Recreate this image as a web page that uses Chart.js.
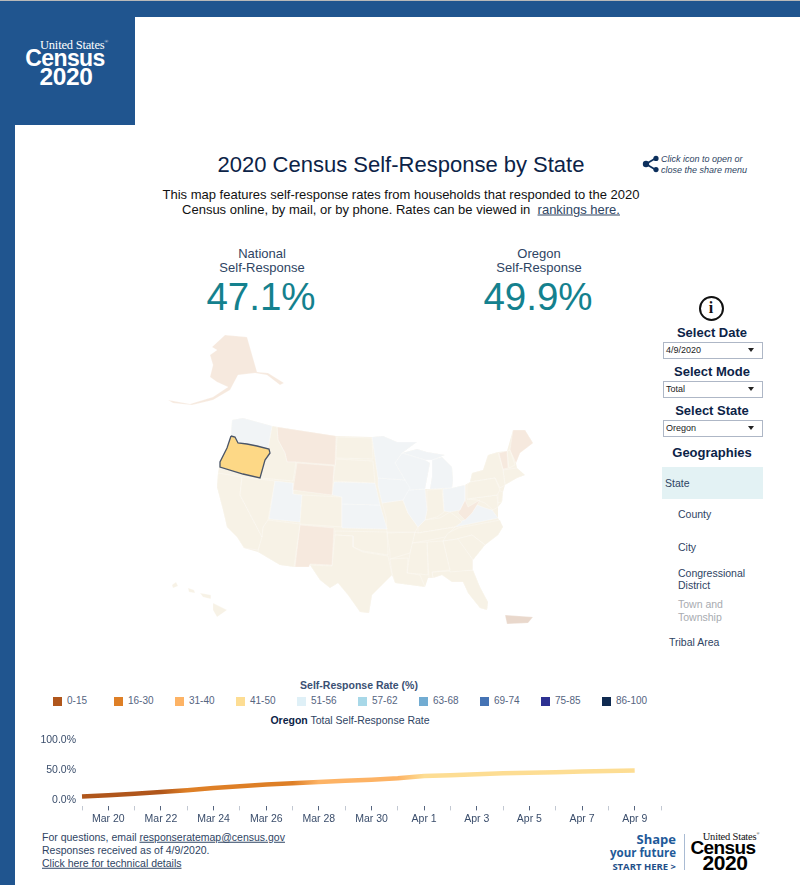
<!DOCTYPE html>
<html>
<head>
<meta charset="utf-8">
<title>2020 Census Self-Response by State</title>
<script src="https://cdn.jsdelivr.net/npm/chart.js@4"></script>
<style>
    html, body { margin: 0; padding: 0; background: #fff; }
    body { position: relative; width: 800px; height: 885px; overflow: hidden; font-family: "Liberation Sans", Arial, sans-serif; color: #2e4463; }
    .t { position: absolute; white-space: nowrap; line-height: 1; transform: translateY(-50%); }
    .c { transform: translate(-50%, -50%); text-align: center; }
    .r { transform: translate(-100%, -50%); text-align: right; }
    .block { position: absolute; }
    .big { font-size: 38.5px; color: #14818e; }
    .sub { font-size: 13px; color: #2e4463; }
    .head { font-size: 13px; font-weight: bold; color: #0c2347; }
    .geo { font-size: 10.5px; color: #2e4463; }
    .select { position: absolute; left: 663px; width: 98px; height: 15px; border: 1px solid #aeb7c6; font-size: 9px; line-height: 15px; color: #222; text-indent: 2px; }
    .select::after { content: ""; position: absolute; right: 8px; top: 5px; border: 3px solid transparent; border-top: 4px solid #222; }
    a, .u { text-decoration: underline; }
    canvas { position: absolute; display: block; }
    .swatch { position: absolute; width: 9px; height: 9px; top: 697px; }
    .legend-label { position: absolute; top: 701px; font-size: 10px; line-height: 1; transform: translateY(-50%); color: #55657f; }
</style>
</head>
<body>
    <!-- Blue frame and logo block -->
    <div class="block" style="left:0;top:0;width:800px;height:17px;background:#20558f"></div>
    <div class="block" style="left:0;top:0;width:800px;height:1px;background:#b9b9b9"></div>
    <div class="block" style="left:0;top:1px;width:135px;height:124px;background:#20558f"></div>
    <div class="block" style="left:0;top:125px;width:15px;height:760px;background:#20558f"></div>
    <div class="t c" style="left:74px;top:45px;font:12.5px 'Liberation Serif';color:#fff;letter-spacing:-.2px">United States<sup style="font-size:5px">®</sup></div>
    <div class="t c" style="left:65px;top:58px;font:bold 23px 'Liberation Sans';color:#fff;letter-spacing:-.6px">Census</div>
    <div class="t c" style="left:66px;top:77px;font:bold 24.5px 'Liberation Sans';color:#fff;letter-spacing:-.4px">2020</div>

    <!-- Title and intro -->
    <div class="t c" style="left:401px;top:165px;font-size:22px;color:#0c2347">2020 Census Self-Response by State</div>
    <div class="t c" style="left:401px;top:194px;font-size:13px;color:#111">This map features self-response rates from households that responded to the 2020</div>
    <div class="t c" style="left:401px;top:209px;font-size:13px;color:#111">Census online, by mail, or by phone. Rates can be viewed in &nbsp;<span class="u" style="color:#2e4463">rankings here.</span></div>

    <!-- Share hint -->
    <svg class="block" style="left:642px;top:155px" width="18" height="18" viewBox="0 0 18 18">
        <g stroke="#0c2f5c" stroke-width="1.6"><line x1="4" y1="9" x2="14" y2="3"/><line x1="4" y1="9" x2="14" y2="15"/></g>
        <g fill="#0c2f5c"><circle cx="4" cy="9" r="3.2"/><circle cx="14" cy="3.4" r="2.6"/><circle cx="14" cy="14.6" r="2.6"/></g>
    </svg>
    <div class="t" style="left:661px;top:159px;font-size:9px;font-style:italic;color:#2e4463">Click icon to open or</div>
    <div class="t" style="left:661px;top:170px;font-size:9px;font-style:italic;color:#2e4463">close the share menu</div>

    <!-- Headline numbers -->
    <div class="t c sub" style="left:262px;top:253px">National</div>
    <div class="t c sub" style="left:262px;top:267px">Self-Response</div>
    <div class="t c big" style="left:261px;top:297px">47.1%</div>
    <div class="t c sub" style="left:539px;top:253px">Oregon</div>
    <div class="t c sub" style="left:539px;top:267px">Self-Response</div>
    <div class="t c big" style="left:538px;top:297px">49.9%</div>

    <!-- Side controls -->
    <div class="block" style="left:699px;top:296px;width:21px;height:21px;border:2px solid #111;border-radius:50%"></div>
    <div class="t c" style="left:711px;top:308px;font:bold 16px 'Liberation Serif';color:#111">i</div>
    <div class="t c head" style="left:712px;top:332px">Select Date</div>
    <div class="select" style="top:342px">4/9/2020</div>
    <div class="t c head" style="left:712px;top:371px">Select Mode</div>
    <div class="select" style="top:381px">Total</div>
    <div class="t c head" style="left:712px;top:410px">Select State</div>
    <div class="select" style="top:420px">Oregon</div>
    <div class="t c head" style="left:712px;top:452px">Geographies</div>
    <div class="block" style="left:662px;top:467px;width:101px;height:32px;background:#e3f2f4"></div>
    <div class="t geo" style="left:665px;top:483px">State</div>
    <div class="t geo" style="left:678px;top:514px">County</div>
    <div class="t geo" style="left:678px;top:547px">City</div>
    <div class="t geo" style="left:678px;top:573px">Congressional</div>
    <div class="t geo" style="left:678px;top:585px">District</div>
    <div class="t geo" style="left:678px;top:604px;color:#a8abb0">Town and</div>
    <div class="t geo" style="left:678px;top:617px;color:#a8abb0">Township</div>
    <div class="t geo" style="left:669px;top:642px">Tribal Area</div>

    <!-- Map and trend chart -->
    <canvas id="map-chart" width="420" height="340" style="left:130px;top:320px"></canvas>
    <div class="t c" style="left:359px;top:685px;font-size:10.5px;font-weight:bold;color:#3a5073">Self-Response Rate (%)</div>
    <div id="rate-legend"></div>
    <div class="t c" style="left:350px;top:720px;font-size:10.5px;color:#2e4463"><b style="color:#0c2347">Oregon</b> Total Self-Response Rate</div>
    <canvas id="trend-chart" width="800" height="100" style="left:0;top:728px"></canvas>

    <!-- Footer -->
    <div class="t" style="left:42px;top:837px;font-size:10.5px">For questions, email <span class="u">responseratemap@census.gov</span></div>
    <div class="t" style="left:42px;top:850px;font-size:10.5px">Responses received as of 4/9/2020.</div>
    <div class="t u" style="left:42px;top:863px;font-size:10.5px">Click here for technical details</div>
    <div class="t r" style="left:676px;top:839px;font:bold 13px 'Open Sans';color:#1f5a99">Shape</div>
    <div class="t r" style="left:676px;top:852px;font:bold 11.5px 'Open Sans';color:#1f5a99">your future</div>
    <div class="t r" style="left:676px;top:866px;font:bold 9.5px 'Open Sans';color:#1f4f8a">START HERE &gt;</div>
    <div class="block" style="left:684px;top:834px;width:1px;height:36px;background:#a9bbd3"></div>
    <div class="t c" style="left:731px;top:836px;font:10.5px 'Liberation Serif';color:#111;letter-spacing:-.2px">United States<sup style="font-size:4px">®</sup></div>
    <div class="t c" style="left:723px;top:848px;font:bold 19px 'Liberation Sans';color:#000;letter-spacing:-.6px">Census</div>
    <div class="t c" style="left:725px;top:863px;font:bold 21px 'Liberation Sans';color:#000;letter-spacing:-.4px">2020</div>

<script>
// Trend chart data, one entry per day
const dateLabels = ['Mar 19', 'Mar 20', 'Mar 21', 'Mar 22', 'Mar 23', 'Mar 24', 'Mar 25', 'Mar 26', 'Mar 27', 'Mar 28', 'Mar 29', 'Mar 30', 'Mar 31',
    'Apr 1', 'Apr 2', 'Apr 3', 'Apr 4', 'Apr 5', 'Apr 6', 'Apr 7', 'Apr 8', 'Apr 9', 'Apr 10'];
const rateValues = [6.5, 8.5, 11, 14, 17, 20.5, 23.5, 26.5, 28.5, 30.5, 32.5, 34.5, 37, 40.5, 42, 43.5, 45, 46, 47, 48, 49, 49.9];
const xTickLabels = ['Mar 20', 'Mar 22', 'Mar 24', 'Mar 26', 'Mar 28', 'Mar 30', 'Apr 1', 'Apr 3', 'Apr 5', 'Apr 7', 'Apr 9'];
const yTickValues = [0, 50, 100];

// Legend bands
const legendLabels = ['0-15', '16-30', '31-40', '41-50', '51-56', '57-62', '63-68', '69-74', '75-85', '86-100'];
const legendColors = ['#b0561b', '#de7f26', '#fdb365', '#fddd93', '#dff0f7', '#a8d8e8', '#72acd2', '#4573b4', '#2d3192', '#0f2a50'];
const bandTops = [15, 30, 40, 50, 56, 62, 68, 74, 85, 100];

// Map: which states sit in which band, the rest are 41-50
const band16to30 = ['PR'];
const band31to40 = ['AK', 'MT', 'WY', 'NM', 'WV', 'ME', 'VT'];
const band51to56 = ['WA', 'UT', 'NE', 'KS', 'MN', 'IA', 'WI', 'IL', 'MI', 'OH', 'VA'];
const selectedState = 'OR';

// Rough state outlines in map units, US is the backdrop behind the lower 48
const stateOutlines = {
    US: [[232,420],[243,418],[272,426],[336,436],[372,437],[383,436],[397,442],[417,442],[402,453],[417,449],[427,452],[445,455],[433,460],[425,460],[430,463],[425,489],[430,489],[432,477],[432,460],[442,457],[452,467],[453,480],[452,488],[465,485],[470,482],[472,473],[483,470],[488,455],[498,452],[507,451],[513,430],[525,430],[533,443],[520,453],[516,463],[517,468],[525,475],[517,478],[505,485],[503,492],[502,502],[498,507],[498,518],[503,527],[498,535],[485,545],[473,560],[473,570],[480,587],[488,602],[487,610],[480,608],[468,593],[463,582],[452,582],[442,575],[433,578],[428,578],[425,587],[410,585],[395,583],[392,575],[382,585],[372,595],[369,613],[360,612],[348,595],[338,583],[330,588],[320,580],[310,565],[295,567],[280,565],[258,552],[244,548],[237,537],[227,527],[223,510],[217,487],[218,473],[220,462],[227,448],[231,436]],
    WA: [[232,420],[243,418],[272,426],[268,448],[257,446],[238,443],[231,436]],
    ID: [[272,426],[277,427],[278,440],[285,453],[287,462],[296,462],[293,481],[260,478],[265,460],[270,453],[268,448]],
    MT: [[277,427],[336,436],[335,465],[297,462],[287,462],[285,453],[278,440]],
    WY: [[297,463],[334,466],[332,495],[293,490]],
    ND: [[337,437],[372,438],[373,459],[336,458]],
    SD: [[336,459],[373,461],[375,483],[333,481]],
    NE: [[334,482],[375,483],[380,505],[342,504],[342,497],[332,495]],
    KS: [[342,504],[380,505],[387,529],[342,528]],
    CO: [[302,495],[342,497],[342,527],[300,524]],
    UT: [[275,481],[293,483],[293,494],[302,495],[300,522],[269,519]],
    NV: [[242,477],[275,481],[268,520],[263,527],[262,537],[240,495]],
    CA: [[218,473],[242,477],[240,495],[262,537],[258,550],[244,548],[237,537],[227,527],[223,510],[217,487]],
    AZ: [[263,527],[268,520],[300,524],[294,567],[280,565],[258,552]],
    NM: [[300,525],[334,528],[332,565],[310,564],[309,567],[295,567]],
    TX: [[335,535],[353,536],[353,547],[363,552],[388,556],[392,575],[382,585],[372,595],[369,613],[360,612],[348,595],[338,583],[330,588],[320,580],[310,565],[332,566]],
    OK: [[335,531],[387,532],[388,555],[363,551],[353,547],[353,536],[335,535]],
    MN: [[372,437],[383,436],[397,442],[417,442],[402,453],[395,463],[405,480],[378,478]],
    IA: [[378,478],[405,480],[410,488],[403,500],[382,503],[378,485]],
    WI: [[402,453],[425,460],[430,463],[425,489],[408,490],[405,480],[395,463]],
    IL: [[408,490],[425,489],[427,510],[425,520],[418,527],[408,513],[403,500]],
    MO: [[382,503],[403,500],[408,513],[418,527],[415,532],[387,532],[386,517]],
    AR: [[387,533],[415,532],[410,553],[390,559],[390,553]],
    LA: [[390,559],[408,558],[407,573],[420,575],[425,587],[410,585],[395,583],[392,573]],
    MS: [[412,543],[427,542],[428,575],[420,574],[407,573],[410,553]],
    AL: [[427,542],[443,541],[450,570],[432,572],[433,578],[429,578]],
    GA: [[443,541],[458,539],[473,560],[473,570],[450,572]],
    FL: [[432,572],[450,571],[473,570],[480,587],[488,602],[487,610],[480,608],[468,593],[463,582],[452,582],[442,575],[433,578]],
    SC: [[457,539],[472,535],[485,545],[473,560]],
    NC: [[448,533],[458,528],[500,520],[503,527],[498,535],[485,545],[472,535],[457,539],[443,541]],
    TN: [[418,533],[455,527],[450,532],[445,537],[430,540],[412,543],[415,532]],
    KY: [[418,527],[425,520],[440,518],[450,512],[458,518],[462,522],[455,527],[418,533]],
    IN: [[427,490],[442,489],[444,512],[437,517],[425,520],[427,510]],
    OH: [[443,489],[452,488],[465,485],[465,500],[460,510],[450,512],[444,511]],
    MI: [[432,460],[442,457],[452,467],[453,480],[452,488],[430,489],[432,477]],
    MI2: [[402,453],[417,449],[427,452],[445,455],[433,460],[425,460]],
    WV: [[458,513],[465,500],[468,507],[480,500],[477,505],[472,513],[465,520]],
    VA: [[458,522],[465,520],[472,513],[477,505],[485,508],[492,510],[498,518],[455,527]],
    PA: [[467,485],[470,482],[495,478],[500,490],[497,495],[467,499]],
    MD: [[467,499],[497,495],[498,507],[493,510],[485,503],[477,500]],
    NJ: [[498,490],[503,492],[502,502],[498,503]],
    NY: [[470,482],[472,473],[483,470],[488,455],[498,452],[503,470],[505,485],[500,488],[495,478]],
    VT: [[499,453],[507,451],[508,468],[503,469]],
    NH: [[507,451],[510,450],[515,465],[509,468]],
    ME: [[513,430],[525,430],[533,443],[520,453],[516,463],[510,450]],
    MA: [[503,470],[517,468],[525,475],[517,478],[505,485]],
    AK: [[212,347],[225,335],[247,337],[257,372],[268,373],[284,383],[280,385],[267,375],[255,373],[238,375],[230,390],[213,400],[192,405],[173,403],[168,400],[190,404],[213,397],[228,387],[217,382],[210,377],[213,365],[210,355],[217,350]],
    HI: [[213,603],[227,610],[217,617],[213,610]],
    HI2: [[188,588],[194,590],[195,593],[189,592]],
    HI3: [[172,585],[176,582],[178,586],[173,588]],
    HI4: [[200,593],[211,595],[211,599],[203,597]],
    PR: [[505,615],[533,617],[528,623],[507,624]],
    OR: [[231,436],[235,437],[238,443],[247,444],[257,446],[269,449],[270,453],[265,460],[260,478],[243,474],[220,467],[220,462],[227,448]]
};

// Faded map tints for each band
function stateTint(name) {
    const state = name.slice(0, 2);
    if (state === selectedState) return '#fdd886';
    if (band16to30.includes(state)) return '#e9d8cc';
    if (band31to40.includes(state)) return '#f6e9de';
    if (band51to56.includes(state)) return '#f1f4f6';
    return '#f7f2e6';
}

// Function to draw the map as closed filled lines on a scatter chart
function displayMapChart() {
    const datasets = Object.keys(stateOutlines).map(name => {
        const outline = stateOutlines[name];
        const isSelected = name === selectedState;
        return {
            label: name,
            data: [...outline, outline[0]].map(p => ({ x: p[0], y: p[1] })),
            showLine: true,
            fill: 'shape',
            tension: 0,
            pointRadius: 0,
            // lower order is drawn on top
            order: isSelected ? 0 : (name === 'US' ? 2 : 1),
            backgroundColor: stateTint(name),
            borderColor: isSelected ? '#4a5568' : (name === 'US' ? 'transparent' : 'rgba(255,255,255,0.55)'),
            borderWidth: isSelected ? 1.3 : 0.5
        };
    });

    new Chart(document.getElementById('map-chart').getContext('2d'), {
        type: 'scatter',
        data: { datasets },
        options: {
            responsive: false,
            animation: false,
            layout: { padding: 0 },
            plugins: { legend: { display: false }, tooltip: { enabled: false } },
            scales: {
                x: { type: 'linear', display: false, min: 130, max: 550 },
                y: { type: 'linear', display: false, min: 320, max: 660, reverse: true }
            }
        }
    });
}

// Function to build the rate legend
function displayLegend() {
    const legend = document.getElementById('rate-legend');
    legendLabels.forEach((label, i) => {
        const swatch = document.createElement('div');
        swatch.className = 'swatch';
        swatch.style.left = (53 + i * 61) + 'px';
        swatch.style.background = legendColors[i];
        legend.appendChild(swatch);

        const text = document.createElement('div');
        text.className = 'legend-label';
        text.style.left = (67 + i * 61) + 'px';
        text.textContent = label;
        legend.appendChild(text);
    });
}

function bandColor(value) {
    const i = bandTops.findIndex(top => value <= top);
    return legendColors[i];
}

// Line colour follows the legend band of each day
function trendGradient(context) {
    const { chart } = context;
    const xScale = chart.scales.x;
    if (!chart.chartArea || !xScale) return legendColors[3];
    const start = xScale.getPixelForValue(0);
    const end = xScale.getPixelForValue(rateValues.length - 1);
    const gradient = chart.ctx.createLinearGradient(start, 0, end, 0);
    rateValues.forEach((value, i) => {
        gradient.addColorStop(i / (rateValues.length - 1), bandColor(value));
    });
    return gradient;
}

// Function to display the Oregon trend line
function displayTrendChart() {
    const tickFont = { family: '"Liberation Sans", Arial, sans-serif', size: 10.5 };
    new Chart(document.getElementById('trend-chart').getContext('2d'), {
        type: 'line',
        data: {
            labels: dateLabels,
            datasets: [{
                label: 'Oregon',
                data: rateValues,
                borderColor: trendGradient,
                borderWidth: 4.5,
                pointRadius: 0,
                tension: 0,
                fill: false
            }]
        },
        options: {
            responsive: false,
            animation: false,
            layout: { padding: { top: 10, right: 139, bottom: 1, left: 0 } },
            plugins: { legend: { display: false }, tooltip: { enabled: false } },
            scales: {
                x: {
                    border: { display: false },
                    grid: {
                        drawOnChartArea: false,
                        tickLength: 4,
                        tickWidth: 1,
                        tickColor: ctx => xTickLabels.includes(dateLabels[ctx.index]) ? '#55657f' : '#c2c8d2'
                    },
                    ticks: {
                        autoSkip: false,
                        maxRotation: 0,
                        padding: 2,
                        color: '#3a4d6b',
                        font: tickFont,
                        callback: (value, index) => xTickLabels.includes(dateLabels[index]) ? dateLabels[index] : ''
                    }
                },
                y: {
                    min: -10,
                    max: 100,
                    afterFit: scale => { scale.width = 82; },
                    afterBuildTicks: scale => { scale.ticks = yTickValues.map(value => ({ value })); },
                    border: { display: false },
                    grid: { display: false, drawTicks: false },
                    ticks: {
                        padding: 6,
                        color: '#3a4d6b',
                        font: tickFont,
                        callback: value => value.toFixed(1) + '%'
                    }
                }
            }
        }
    });
}

// Initialize the page
function initPage() {
    displayMapChart();
    displayLegend();
    displayTrendChart();
}

initPage();
</script>
</body>
</html>
